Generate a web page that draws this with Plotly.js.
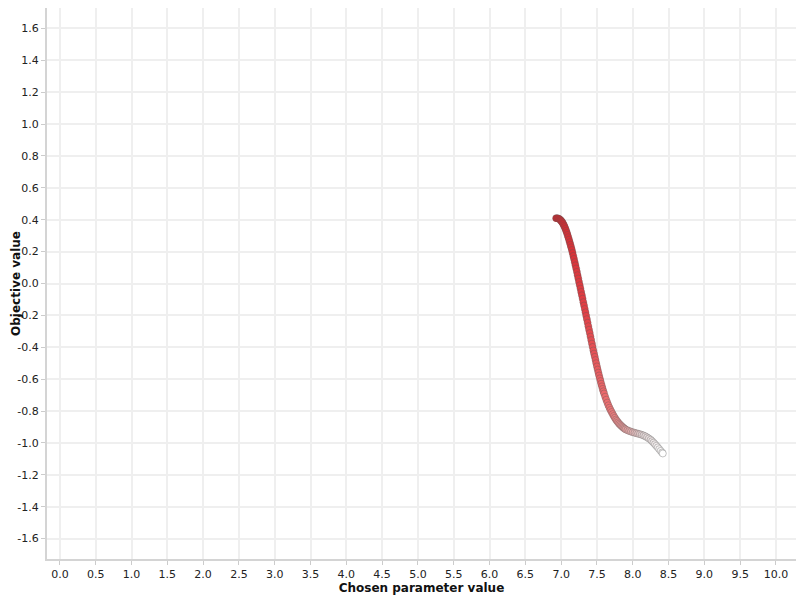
<!DOCTYPE html>
<html>
<head>
<meta charset="utf-8">
<script src="https://cdn.plot.ly/plotly-3.0.1.min.js"></script>
<style>html,body{margin:0;padding:0;background:#fff;}#chart{width:800px;height:600px;}</style>
</head>
<body>
<div id="chart"></div>
<script>
// Chosen parameter values along the trajectory
const paramValues = [
  6.93, 6.945, 6.96, 6.975, 6.99, 7.00, 7.01, 7.02, 7.03, 7.04, 7.05, 7.06, 7.07, 7.08, 7.09, 7.10,
  7.11, 7.12, 7.13, 7.14, 7.15, 7.16, 7.17, 7.18, 7.19, 7.20, 7.21, 7.22, 7.23, 7.24, 7.25,
  7.26, 7.27, 7.28, 7.29, 7.30, 7.31, 7.32, 7.33, 7.34, 7.35, 7.36, 7.37, 7.38, 7.39, 7.40,
  7.41, 7.42, 7.43, 7.44, 7.45, 7.46, 7.47, 7.48, 7.49, 7.50, 7.51, 7.52, 7.53, 7.54, 7.55,
  7.56, 7.57, 7.58, 7.59, 7.60,
  7.615, 7.63, 7.645, 7.66, 7.675, 7.69, 7.705, 7.72, 7.735, 7.75, 7.765, 7.78, 7.795, 7.81,
  7.825, 7.84, 7.855, 7.87, 7.885, 7.90,
  7.925, 7.95, 7.975, 8.00, 8.025, 8.05, 8.075, 8.10, 8.125, 8.15, 8.175, 8.20, 8.225, 8.25,
  8.27, 8.29, 8.31, 8.33, 8.35, 8.37, 8.39, 8.41, 8.42
];
// Objective values along the trajectory
const objectiveValues = [
  0.410, 0.410, 0.408, 0.404, 0.399, 0.394, 0.388, 0.381, 0.373, 0.364, 0.354, 0.343, 0.331, 0.318, 0.304, 0.290,
  0.275, 0.259, 0.243, 0.227, 0.210, 0.192, 0.173, 0.154, 0.134, 0.114, 0.094, 0.073, 0.052, 0.031, 0.010,
  -0.011, -0.032, -0.053, -0.074, -0.095, -0.117, -0.138, -0.160, -0.181, -0.203, -0.224, -0.246, -0.268, -0.290, -0.311,
  -0.333, -0.355, -0.377, -0.398, -0.420, -0.440, -0.460, -0.480, -0.500, -0.520, -0.540, -0.559, -0.577, -0.595, -0.612,
  -0.629, -0.645, -0.661, -0.676, -0.690,
  -0.710, -0.729, -0.747, -0.764, -0.779, -0.793, -0.806, -0.819, -0.831, -0.842, -0.853, -0.862, -0.871, -0.879,
  -0.886, -0.893, -0.899, -0.905, -0.910, -0.915,
  -0.920, -0.925, -0.929, -0.933, -0.936, -0.939, -0.942, -0.945, -0.949, -0.953, -0.958, -0.965, -0.972, -0.980,
  -0.989, -0.998, -1.008, -1.018, -1.028, -1.039, -1.050, -1.060, -1.066
];
const xTickVals = [0,0.5,1,1.5,2,2.5,3,3.5,4,4.5,5,5.5,6,6.5,7,7.5,8,8.5,9,9.5,10];
const xTickText = ["0.0","0.5","1.0","1.5","2.0","2.5","3.0","3.5","4.0","4.5","5.0","5.5","6.0","6.5","7.0","7.5","8.0","8.5","9.0","9.5","10.0"];
const yTickVals = [-1.6,-1.4,-1.2,-1.0,-0.8,-0.6,-0.4,-0.2,0,0.2,0.4,0.6,0.8,1.0,1.2,1.4,1.6];
const yTickText = ["-1.6","-1.4","-1.2","-1.0","-0.8","-0.6","-0.4","-0.2","0.0","0.2","0.4","0.6","0.8","1.0","1.2","1.4","1.6"];

const order = paramValues.map((_, i) => i);

const trace = {
  type: 'scatter',
  mode: 'markers',
  x: paramValues,
  y: objectiveValues,
  marker: {
    size: 7,
    color: order,
    cmin: 0,
    cmax: order.length - 1,
    colorscale: [
      [0, 'rgb(208,36,42)'],
      [0.35, 'rgb(226,62,68)'],
      [0.65, 'rgb(238,112,114)'],
      [0.8, 'rgb(228,162,162)'],
      [0.88, 'rgb(228,215,215)'],
      [1, 'rgb(255,255,255)']
    ],
    showscale: false,
    line: {color: 'rgba(90,90,90,0.6)', width: 0.6}
  },
  hoverinfo: 'x+y'
};

const axisCommon = {
  showgrid: true,
  gridcolor: '#efefef',
  gridwidth: 2,
  zeroline: false,
  showline: true,
  linecolor: '#d4d4d4',
  linewidth: 2,
  ticks: 'outside',
  ticklen: 4,
  tickcolor: '#cccccc',
  tickfont: {family: 'DejaVu Sans', size: 11, color: '#222'},
  tickmode: 'array'
};

const layout = {
  width: 800,
  height: 600,
  margin: {l: 47, r: 4, t: 8, b: 41},
  paper_bgcolor: '#fff',
  plot_bgcolor: '#fff',
  showlegend: false,
  font: {family: 'DejaVu Sans', size: 11, color: '#222'},
  xaxis: Object.assign({}, axisCommon, {
    range: [-0.18, 10.28],
    tickvals: xTickVals,
    ticktext: xTickText,
    title: {text: '<b>Chosen parameter value</b>', font: {family: 'DejaVu Sans', size: 12, color: '#111'}, standoff: 3}
  }),
  yaxis: Object.assign({}, axisCommon, {
    range: [-1.728, 1.728],
    tickvals: yTickVals,
    ticktext: yTickText,
    title: {text: '<b>Objective value</b>', font: {family: 'DejaVu Sans', size: 12, color: '#111'}, standoff: 0}
  })
};

Plotly.newPlot('chart', [trace], layout, {displayModeBar: false, staticPlot: true}).then(function () {
  // shift the y title right to overlap tick labels as in the reference
  var yt = document.querySelector('.g-ytitle text');
  if (yt) {
    var tr = yt.getAttribute('transform') || '';
    yt.setAttribute('x', parseFloat(yt.getAttribute('x')) + 6);
    var m = tr.match(/rotate\(([-\d.]+),([-\d.]+),([-\d.]+)\)/);
    if (m) yt.setAttribute('transform', 'rotate(' + m[1] + ',' + (parseFloat(m[2]) + 6) + ',' + m[3] + ')');
  }
});
</script>
</body>
</html>
